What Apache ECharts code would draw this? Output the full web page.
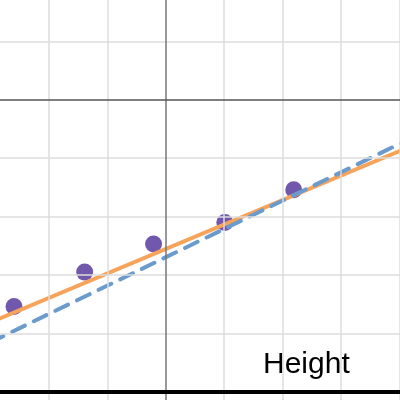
<!DOCTYPE html>
<html><head><meta charset="utf-8">
<script src="https://cdn.jsdelivr.net/npm/echarts@6/dist/echarts.min.js"></script>
<style>html,body{margin:0;padding:0;background:#fff}#c{width:400px;height:400px}</style>
</head><body><div id="c"></div>
<script>
const pointsX = [-2.60, -1.39, -0.21, 1.01, 2.19];
const pointsY = [1.46, 2.05, 2.53, 2.90, 3.46];
const fitX = [-3, 5];
const solidY = [1.19, 4.54];
const dashedY = [0.85, 4.73];
const gridXs = [-2, -1, 1, 2, 3, 4];
const gridYs = [1, 2, 3, 4, 6];
const label = 'Height';
const gl = {color: '#dcdcdc', width: 1.5, type: 'solid'};
const chart = echarts.init(document.getElementById('c'));
chart.setOption({
  animation: false,
  grid: {left: 0, top: 0, right: 0, bottom: 0, containLabel: false},
  xAxis: {type: 'value', min: -2.84, max: 4.01, axisLine: {show: false}, axisTick: {show: false}, axisLabel: {show: false}, splitLine: {show: false}},
  yAxis: {type: 'value', min: -0.14, max: 6.71, axisLine: {show: false}, axisTick: {show: false}, axisLabel: {show: false}, splitLine: {show: false}},
  graphic: [{type: 'text', left: 263, top: 350, style: {text: label, font: '30px "Liberation Sans", Arial', fill: '#000'}}],
  series: [
    {type: 'line', data: [], markLine: {symbol: 'none', silent: true, label: {show: false},
      data: [...gridXs.map(x => ({xAxis: x, lineStyle: gl})), ...gridYs.map(y => ({yAxis: y, lineStyle: gl})),
             {xAxis: 0, lineStyle: {color: '#777', width: 1.5, type: 'solid'}},
             {yAxis: 5, lineStyle: {color: '#555', width: 1.5, type: 'solid'}},
             {yAxis: 0, lineStyle: {color: '#000', width: 4, type: 'solid'}}]}},
    {type: 'line', data: fitX.map((x, i) => [x, solidY[i]]), symbol: 'none', lineStyle: {color: '#f8a35a', width: 4}},
    {type: 'line', data: fitX.map((x, i) => [x, dashedY[i]]), symbol: 'none', lineStyle: {color: '#6a9bcc', width: 4, type: [14, 10], cap: 'round'}},
    {type: 'scatter', data: pointsX.map((x, i) => [x, pointsY[i]]), symbolSize: 17, itemStyle: {color: '#6a4fa8', opacity: 0.95}}
  ]
});
</script></body></html>
